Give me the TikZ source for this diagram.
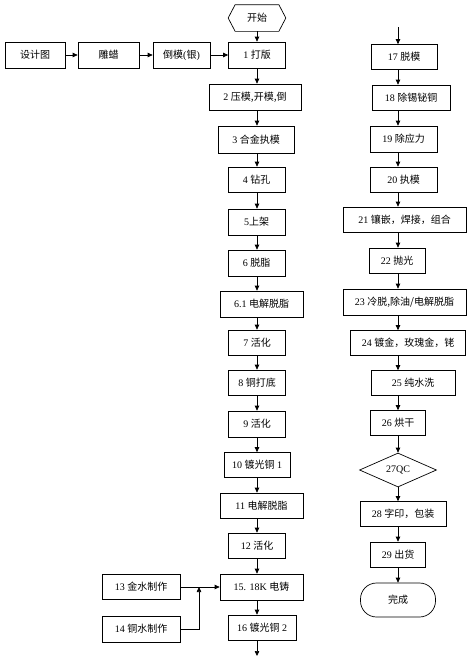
\documentclass[tikz,border=0pt]{standalone}
\usepackage{fontspec}
\setmainfont{Liberation Serif}
\newfontfamily\cjk{Noto Sans CJK SC}
\newcommand{\zh}[1]{{\cjk #1}}
\usetikzlibrary{arrows.meta,shapes.geometric}

\begin{document}
\begin{tikzpicture}[x=1pt, y=-1pt,
    mybox/.style={draw, line width=0.7pt, minimum height=25pt, inner sep=1pt, font=\fontsize{10}{12}\selectfont},
    myarrow/.style={-{Triangle[length=5pt, width=4.5pt]}, line width=0.7pt}
]
    \useasboundingbox (0,0) rectangle (474,659);

    % Start and preparation row
    \node[mybox, draw=none, minimum width=57pt, minimum height=26pt] (start) at (257,18) {\zh{开始}};
    \draw[line width=0.7pt] (start.west) -- ([xshift=7pt]start.north west) -- ([xshift=-7pt]start.north east)
        -- (start.east) -- ([xshift=-7pt]start.south east) -- ([xshift=7pt]start.south west) -- cycle;
    \node[mybox, minimum width=60pt, minimum height=26pt] (design) at (35,55) {\zh{设计图}};
    \node[mybox, minimum width=61pt, minimum height=26pt] (wax) at (108.5,55) {\zh{雕蜡}};
    \node[mybox, minimum width=57pt, minimum height=26pt] (cast) at (181.5,55) {\zh{倒模}(\zh{银})};

    % Left column
    \node[mybox, minimum width=57pt, minimum height=26pt] (n1) at (257,55) {1 \zh{打版}};
    \node[mybox, minimum width=92pt, minimum height=26pt] (n2) at (255,97) {2 \zh{压模,开模,倒}};
    \node[mybox, minimum width=76pt, minimum height=27pt] (n3) at (256,139.5) {3 \zh{合金执模}};
    \node[mybox, minimum width=57pt] (n4) at (256.5,179.5) {4 \zh{钻孔}};
    \node[mybox, minimum width=57pt, minimum height=26pt] (n5) at (256.5,222) {5\zh{上架}};
    \node[mybox, minimum width=57pt, minimum height=26pt] (n6) at (256.5,263) {6 \zh{脱脂}};
    \node[mybox, minimum width=83pt, minimum height=26pt] (n61) at (261.5,304) {6.1 \zh{电解脱脂}};
    \node[mybox, minimum width=57pt] (n7) at (257,342.5) {7 \zh{活化}};
    \node[mybox, minimum width=57pt] (n8) at (257,382.5) {8 \zh{铜打底}};
    \node[mybox, minimum width=57pt, minimum height=26pt] (n9) at (257,424) {9 \zh{活化}};
    \node[mybox, minimum width=66pt] (n10) at (257,465) {10 \zh{镀光铜} 1};
    \node[mybox, minimum width=83pt] (n11) at (261.5,505.5) {11 \zh{电解脱脂}};
    \node[mybox, minimum width=57pt] (n12) at (257,545.5) {12 \zh{活化}};
    \node[mybox, minimum width=83pt, minimum height=26pt] (n15) at (261.5,587) {15. 18K \zh{电铸}};
    \node[mybox, minimum width=68pt] (n16) at (262,627.5) {16 \zh{镀光铜} 2};
    \coordinate (leftend) at (257,656);

    % Metal feeds
    \node[mybox, minimum width=78pt] (n13) at (141,587) {13 \zh{金水制作}};
    \node[mybox, minimum width=78pt, minimum height=26pt] (n14) at (141,629) {14 \zh{铜水制作}};
    \coordinate (join) at (199,587);

    % Right column
    \coordinate (rtop) at (398,27);
    \node[mybox, minimum width=66pt] (n17) at (404,57) {17 \zh{脱模}};
    \node[mybox, minimum width=78pt] (n18) at (411,97.5) {18 \zh{除锡铋铜}};
    \node[mybox, minimum width=67pt, minimum height=26pt] (n19) at (403.5,139) {19 \zh{除应力}};
    \node[mybox, minimum width=67pt] (n20) at (403.5,179.5) {20 \zh{执模}};
    \node[mybox, minimum width=123pt] (n21) at (404.5,219.5) {21 \zh{镶嵌，焊接，组合}};
    \node[mybox, minimum width=56pt] (n22) at (397,260.5) {22 \zh{抛光}};
    \node[mybox, minimum width=123pt, minimum height=26pt] (n23) at (404.5,302) {23 \zh{冷脱,除油/电解脱脂}};
    \node[mybox, minimum width=115pt, minimum height=25pt] (n24) at (408,343) {24 \zh{镀金，玫瑰金，铑}};
    \node[mybox, minimum width=84pt] (n25) at (413,383) {25 \zh{纯水洗}};
    \node[mybox, minimum width=55pt] (n26) at (398,423) {26 \zh{烘干}};
    \node[draw, diamond, aspect=2.26, minimum width=77pt, minimum height=34pt, inner sep=0pt,
        line width=0.7pt, font=\fontsize{10}{12}\selectfont] (n27) at (398,470) {27QC};
    \node[mybox, minimum width=86pt] (n28) at (403,514) {28 \zh{字印，包装}};
    \node[mybox, minimum width=55pt] (n29) at (398,554.5) {29 \zh{出货}};
    \node[mybox, rounded corners=16pt, minimum width=75pt, minimum height=34pt] (done) at (398,600) {\zh{完成}};

    % Connectors
    \draw[myarrow] (design) -- (wax);
    \draw[myarrow] (wax) -- (cast);
    \draw[myarrow] (cast) -- (n1);
    \foreach \a/\b in {start/n1, n1/n2, n2/n3, n3/n4, n4/n5, n5/n6, n6/n61, n61/n7, n7/n8,
                       n8/n9, n9/n10, n10/n11, n11/n12, n12/n15, n15/n16}
        \draw[myarrow] (\a.south -| start) -- (\b.north -| start);
    \draw[myarrow] (n16.south -| start) -- (leftend);
    \draw[myarrow] (n13) -- (n15);
    \draw[myarrow] (n14.east) -| (join);
    \draw[myarrow] (rtop) -- (n17.north -| done);
    \foreach \a/\b in {n17/n18, n18/n19, n19/n20, n20/n21, n21/n22, n22/n23, n23/n24,
                       n24/n25, n25/n26, n26/n27, n27/n28, n28/n29, n29/done}
        \draw[myarrow] (\a.south -| done) -- (\b.north -| done);
\end{tikzpicture}
\end{document}
